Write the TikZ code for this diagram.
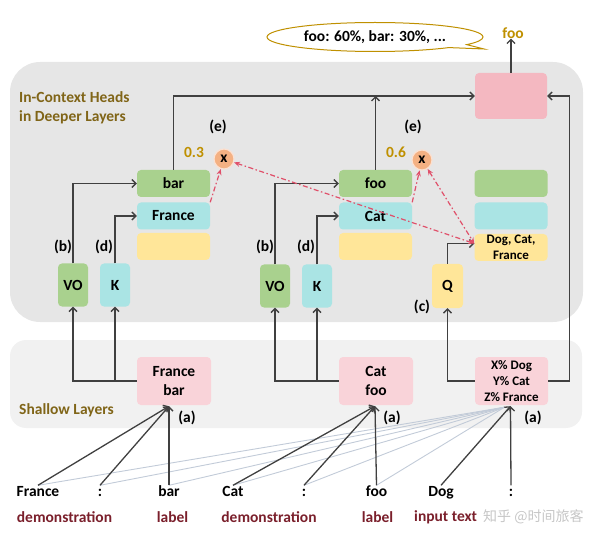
\documentclass[tikz,border=0pt]{standalone}
\usepackage{fontspec}
\setmainfont{Carlito}
\newfontfamily\cjkfont{Noto Sans CJK SC}
\usetikzlibrary{arrows.meta,shapes.callouts,calc}
\definecolor{cpanelA}{HTML}{E6E6E6}
\definecolor{cpanelB}{HTML}{F1F1F1}
\definecolor{cgreen}{HTML}{A9D18E}
\definecolor{ccyan}{HTML}{AAE4E4}
\definecolor{cyel}{HTML}{FFE699}
\definecolor{cpinkA}{HTML}{F4B8C1}
\definecolor{cpinkB}{HTML}{F9D3D9}
\definecolor{corange}{HTML}{F4B183}
\definecolor{corangeL}{HTML}{FBE1D2}
\definecolor{cline}{HTML}{404040}
\definecolor{cfaint}{HTML}{C2CBD8}
\definecolor{chead}{HTML}{806518}
\definecolor{cgold}{HTML}{BF9000}
\definecolor{cwine}{HTML}{7A1F2B}
\definecolor{cdash}{HTML}{E0506A}
\newcommand\mainsz{\fontsize{15.5}{19}\selectfont}
\newcommand\smallsz{\fontsize{13}{16}\selectfont}
\tikzset{
  box/.style={rounded corners=4pt, minimum width=73pt, minimum height=27pt, inner sep=0pt, font=\mainsz\bfseries},
  gbox/.style={box, fill=cgreen},
  cbox/.style={box, fill=ccyan},
  ybox/.style={box, fill=cyel},
  opbox/.style={box, minimum width=30pt, minimum height=43pt},
  pbox/.style={box, fill=cpinkB, minimum width=74pt, minimum height=48pt, align=center},
  lbl/.style={font=\mainsz\bfseries, inner sep=0pt},
  word/.style={font=\mainsz\bfseries, inner sep=1pt, text height=10pt, text depth=3pt},
  tag/.style={font=\mainsz\bfseries, text=cwine, inner sep=1pt},
  arr/.style={draw=cline, line width=1.3pt, -{Straight Barb[length=4pt,width=8pt]}},
  faint/.style={draw=cfaint, line width=0.9pt},
  mult/.style={circle, fill=corange, draw=corangeL, line width=1.2pt, minimum size=20pt, inner sep=0pt, font=\mainsz\bfseries},
  rdash/.style={draw=cdash, line width=1.2pt, dash pattern=on 5pt off 2.5pt on 1.5pt off 2.5pt},
  rda/.style={rdash, -{Stealth[length=6pt,width=5pt]}},
  rdb/.style={rdash, {Stealth[length=6pt,width=5pt]}-{Stealth[length=6pt,width=5pt]}}
}
\begin{document}
\begin{tikzpicture}[x=1pt,y=-1pt]
\useasboundingbox (0,0) rectangle (592,540);
% panels
\fill[cpanelA, rounded corners=30pt] (10,62) rectangle (583,322);
\fill[cpanelB, rounded corners=16pt] (10,340) rectangle (582,428);
% headings
\node[lbl, text=chead, anchor=west, align=left] (hdeep) at (19,107.5) {In-Context Heads\\in Deeper Layers};
\node[lbl, text=chead, anchor=west] (hshallow) at (19,410) {Shallow Layers};
% output
\node[ellipse callout, draw=cgold, fill=white, line width=1pt, minimum width=216pt, minimum height=29pt, inner sep=0pt, callout absolute pointer={(484,49)}, font=\mainsz\bfseries] (dist) at (375,37) {foo: 60\%, bar: 30\%, ...};
\node[lbl, text=cgold] (ofoo) at (513,33) {foo};
\node[box, fill=cpinkA, minimum width=72pt, minimum height=46pt] (out) at (511,96) {};
% left column
\node[gbox] (bar) at (173.5,183.5) {bar};
\node[cbox] (France) at (173.5,216) {France};
\node[ybox] (y1) at (173.5,246.5) {};
\node[opbox, fill=cgreen] (VO1) at (73,285) {VO};
\node[opbox, fill=ccyan] (K1) at (115,285) {K};
% middle column
\node[gbox] (foo) at (375.5,183.5) {foo};
\node[cbox] (Cat) at (375.5,216) {Cat};
\node[ybox] (y2) at (375.5,246.5) {};
\node[opbox, fill=cgreen] (VO2) at (275,286) {VO};
\node[opbox, fill=ccyan] (K2) at (317,286) {K};
% right column
\node[gbox] (g3) at (511,183.5) {};
\node[cbox] (c3) at (511,216) {};
\node[ybox, font=\smallsz\bfseries, align=center] (dog) at (511,247.5) {Dog, Cat,\\France};
\node[opbox, fill=cyel, minimum width=31pt, minimum height=44pt] (Q) at (447.5,286) {Q};
% multipliers
\node[mult] (x1) at (224,159) {x};
\node[mult] (x2) at (422,160) {x};
\node[lbl] (e1) at (218,127) {(e)};
\node[lbl] (e2) at (413,127) {(e)};
\node[lbl, text=cgold] (s1) at (194,152) {0.3};
\node[lbl, text=cgold] (s2) at (396,152) {0.6};
% letters
\node[lbl] (b1) at (63,247) {(b)};
\node[lbl] (d1) at (104,247) {(d)};
\node[lbl] (b2) at (265,247) {(b)};
\node[lbl] (d2) at (306,247) {(d)};
\node[lbl] (c1) at (422,307) {(c)};
% shallow boxes
\node[pbox] (FB) at (174,381) {France\\bar};
\node[pbox] (CF) at (376,381) {Cat\\foo};
\node[pbox, font=\smallsz\bfseries, minimum width=73pt] (XD) at (511.5,381) {X\% Dog\\Y\% Cat\\Z\% France};
\node[lbl] (a1) at (187,418) {(a)};
\node[lbl] (a2) at (392,418) {(a)};
\node[lbl] (a3) at (533,418) {(a)};
% words
\node[word] (w1) at (38,493) {France};
\node[word] (w2) at (100,493) {:};
\node[word] (w3) at (169,493) {bar};
\node[word] (w4) at (233,493) {Cat};
\node[word] (w5) at (304,493) {:};
\node[word] (w6) at (376.5,493) {foo};
\node[word] (w7) at (441,493) {Dog};
\node[word] (w8) at (511,493) {:};
\node[tag] (t1) at (64.5,517) {demonstration};
\node[tag] (t2) at (172.5,517) {label};
\node[tag] (t3) at (269,517) {demonstration};
\node[tag] (t4) at (377.5,517) {label};
\node[tag, anchor=west] (t5) at (413,517) {input text};
\node[font=\cjkfont\fontsize{14}{16}\selectfont, text=gray, opacity=0.45, anchor=west, inner sep=0pt] (wm) at (483,517) {知乎 @时间旅客};
% connector coordinates
\coordinate (fbin) at ($(FB.south)+(-5,1)$);
\coordinate (cfin) at ($(CF.south)+(-1,1)$);
\coordinate (xdin) at ($(XD.south)+(-1,1)$);
\coordinate (xdlt) at ($(XD.south)+(-7,2)$);
\coordinate (dogin) at ($(dog.west)+(0,-4)$);
% faint lines to query position
\foreach \w in {w1,w2,w3,w4,w5,w6} \draw[faint] (\w.north) -- (xdlt);
% word arrows
\draw[arr] (w1.north) -- (fbin);
\draw[arr] (w2.north) -- (fbin);
\draw[arr] (w3.north) -- (fbin);
\draw[arr] (w4.north) -- (cfin);
\draw[arr] (w5.north) -- (cfin);
\draw[arr] (w6.north) -- (cfin);
\draw[arr] (w7.north) -- (xdin);
\draw[arr] (w8.north) -- (xdin);
% shallow to heads
\draw[arr] (FB.west) -| (VO1.south);
\draw[arr] (FB.west -| K1.south) -- (K1.south);
\draw[arr] (CF.west) -| (VO2.south);
\draw[arr] (CF.west -| K2.south) -- (K2.south);
\draw[arr] (XD.west) -| (Q.south);
\draw[arr] (XD.east) -- ++(21,0) |- (out.east);
% heads to stacks
\draw[arr] (VO1.north) |- (bar.west);
\draw[arr] (K1.north) |- (France.west);
\draw[arr] (VO2.north) |- (foo.west);
\draw[arr] (K2.north) |- (Cat.west);
\draw[arr] (Q.north) |- (dogin);
% to output
\draw[arr] (bar.north) |- (out.west);
\draw[arr] (foo.north) -- (foo.north |- out.west);
\draw[arr] (out.north) -- (out.north |- ofoo.south);
% attention
\draw[rda] (France.north east) -- (x1);
\draw[rdb] (x1) -- (dogin);
\draw[rda] (Cat.north east) -- (x2);
\draw[rdb] (x2) -- (dogin);
\end{tikzpicture}
\end{document}
